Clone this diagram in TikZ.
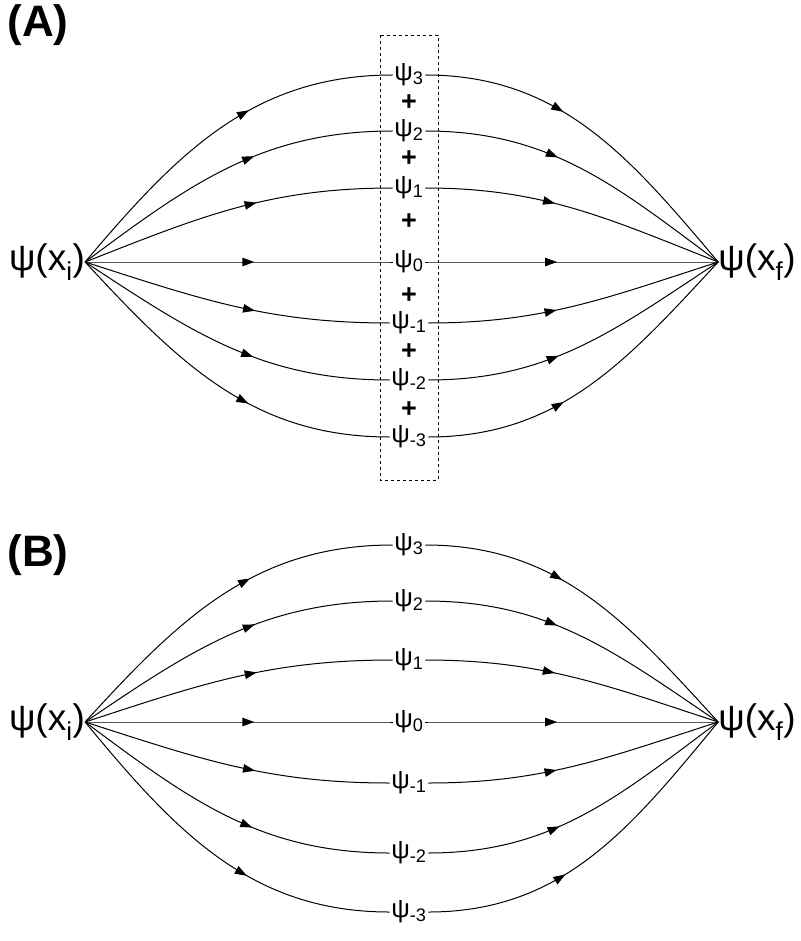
\documentclass[tikz,border=0pt]{standalone}
\usepackage{fontspec}
\setmainfont{Liberation Sans}
\usetikzlibrary{arrows.meta,decorations.markings}
\tikzset{
 pth/.style={draw, line width=1pt, postaction={decorate}, decoration={markings, mark=at position #1 with {\arrow{Triangle[length=12pt,width=8.5pt]}}}},
 lbl/.style={fill=white, inner sep=1.5pt, font=\fontsize{26}{26}\selectfont},
 big/.style={inner sep=0pt, font=\fontsize{37}{37}\selectfont},
 pls/.style={inner sep=0pt, font=\bfseries\fontsize{27}{27}\selectfont},
 ttl/.style={inner sep=0pt, font=\bfseries\fontsize{44}{44}\selectfont},
}
\begin{document}
\begin{tikzpicture}[x=1pt,y=-1pt]
\useasboundingbox (0,0) rectangle (800,941);
\node[ttl] (tA) at (38,25) {(A)};
\node[ttl] (tB) at (38,555) {(B)};
% panel A
\node[big] (AL) at (47,262) {ψ(x\textsubscript{i})};
\node[big] (AR) at (757,262) {ψ(x\textsubscript{f})};
\draw[dashed, line width=0.7pt] (380,35) rectangle (438,480);
\foreach \n/\y/\s in {3/75/3, 2/131/2, 1/188/1, 0/262/0, m1/323/-1, m2/380/-2, m3/437/-3}{
  \node[lbl] (a\n) at (409,\y) {ψ\textsubscript{\s}};
  \pgfmathsetmacro\ang{1.6*atan((262-\y)/310)}
  \pgfmathsetmacro\pa{0.55+0.05*abs(262-\y)/187}
  \pgfmathsetmacro\pb{1-\pa}
  \draw[pth=\pa] (AL.east) to[out=\ang,in=180] (a\n.west);
  \draw[pth=\pb] (a\n.east) to[out=0,in=180-\ang] (AR.west);
}
\foreach \y [count=\i] in {103,159,222,296,352,410}{
  \node[pls] (p\i) at (409,\y) {+};
}
% panel B
\node[big] (BL) at (47,722) {ψ(x\textsubscript{i})};
\node[big] (BR) at (757,722) {ψ(x\textsubscript{f})};
\foreach \n/\y/\s in {3/545/3, 2/601/2, 1/660/1, 0/722/0, m1/783/-1, m2/853/-2, m3/912/-3}{
  \node[lbl] (b\n) at (409,\y) {ψ\textsubscript{\s}};
  \pgfmathsetmacro\ang{1.6*atan((722-\y)/310)}
  \pgfmathsetmacro\pa{0.55+0.05*abs(722-\y)/187}
  \pgfmathsetmacro\pb{1-\pa}
  \draw[pth=\pa] (BL.east) to[out=\ang,in=180] (b\n.west);
  \draw[pth=\pb] (b\n.east) to[out=0,in=180-\ang] (BR.west);
}
\end{tikzpicture}
\end{document}
